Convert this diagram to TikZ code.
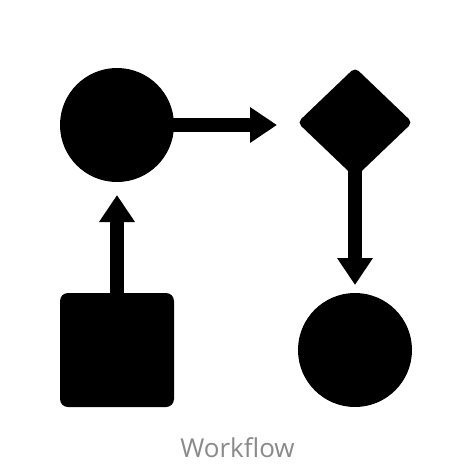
\documentclass[tikz,border=0pt]{standalone}
\usepackage{fontspec}
\setmainfont{Open Sans}
\usetikzlibrary{shapes.geometric,arrows.meta}
\definecolor{labelgray}{HTML}{8A8A8A}
\begin{document}
\begin{tikzpicture}[x=1pt,y=-1pt,
  blob/.style={fill=black,draw=none,inner sep=0pt,outer sep=0pt},
  flow/.style={line width=14pt,-{Triangle[width=34pt,length=27pt]}}]
\useasboundingbox (0,0) rectangle (474,475);
\fill[white] (0,0) rectangle (474,475);
\node[blob,circle,minimum size=114pt] (start) at (117,125) {};
\coordinate (decide) at (355,122.5);
\fill[black,rounded corners=5pt] (355,67.5) -- (412.5,122.5) -- (355,177.5) -- (297.5,122.5) -- cycle;
\node[blob,circle,minimum size=114pt] (finish) at (355,350) {};
\node[blob,rectangle,minimum size=114pt,rounded corners=8pt] (input) at (117,350) {};
\coordinate (t1) at (277,125);
\coordinate (t2) at (355,285);
\coordinate (t3) at (117,195);
\draw[flow] (start.center) -- (t1);
\draw[flow] (decide) -- (t2);
\draw[flow] (input.center) -- (t3);
\node[text=labelgray,font=\fontsize{26}{30}\selectfont,anchor=base] (label) at (237.5,457) {Workflow};
\end{tikzpicture}
\end{document}
